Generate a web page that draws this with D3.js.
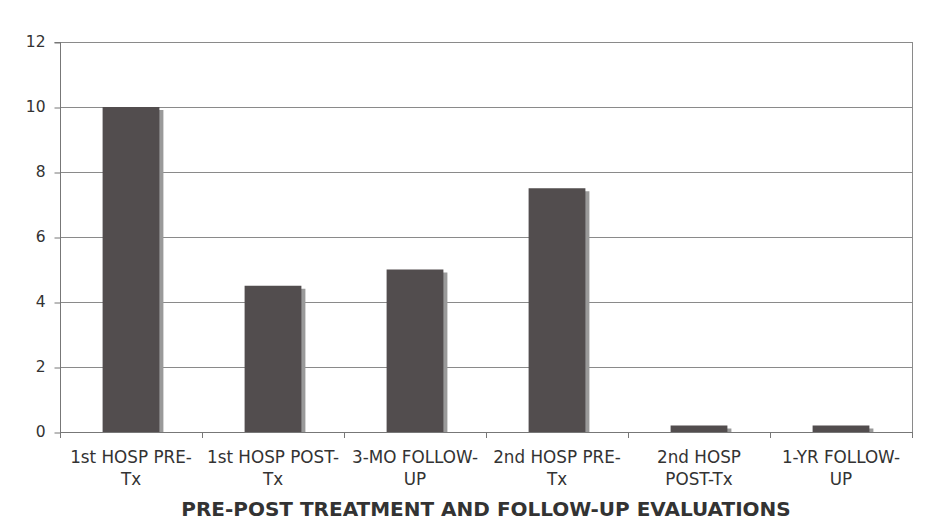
<!DOCTYPE html>
<html><head><meta charset="utf-8">
<script src="https://cdn.jsdelivr.net/npm/d3@7"></script>
<style>body{margin:0;background:#fff}</style>
</head><body><svg id="c" width="947" height="526"></svg>
<script>
const categories = [["1st HOSP PRE-","Tx"],["1st HOSP POST-","Tx"],["3-MO FOLLOW-","UP"],["2nd HOSP PRE-","Tx"],["2nd HOSP","POST-Tx"],["1-YR FOLLOW-","UP"]];
const values = [10, 4.5, 5.0, 7.5, 0.2, 0.2];
const yTicks = [0,2,4,6,8,10,12];
const xTitle = "PRE-POST TREATMENT AND FOLLOW-UP EVALUATIONS";

const svg = d3.select("#c");
const L=60,R=912,T=42,B=432;
const ids = categories.map((d,i)=>i);
const x = d3.scaleBand().domain(ids).range([L,R]).paddingInner(0.6).paddingOuter(0.3);
const xb = d3.scaleBand().domain(ids).range([L,R]);
const y = d3.scaleLinear().domain([0,12]).range([B,T]);
const font = "DejaVu Sans, Verdana, sans-serif";

// grid
svg.append("g").selectAll("line").data(yTicks.filter(d=>d>0)).join("line")
  .attr("x1",L).attr("x2",R).attr("y1",d=>y(d)+0.5).attr("y2",d=>y(d)+0.5)
  .attr("stroke","#8a8a8a").attr("stroke-width",1);
// right border
svg.append("line").attr("x1",R+0.5).attr("x2",R+0.5).attr("y1",T).attr("y2",B).attr("stroke","#8a8a8a");

// shadows
svg.append("g").selectAll("rect").data(values).join("rect")
  .attr("x",(d,i)=>x(i)+4).attr("width",x.bandwidth())
  .attr("y",d=>y(d)+3).attr("height",d=>Math.max(0,B-y(d)-3))
  .attr("fill","#9a9a9a");
// bars
svg.append("g").selectAll("rect").data(values).join("rect")
  .attr("x",(d,i)=>x(i)).attr("width",x.bandwidth())
  .attr("y",d=>y(d)).attr("height",d=>B-y(d))
  .attr("fill","#524d4e");

// y axis
const ya = svg.append("g").attr("transform",`translate(${L+0.5},0)`)
  .call(d3.axisLeft(y).tickValues(yTicks).tickSize(6).tickPadding(9).tickFormat(d3.format("d")));
ya.select(".domain").attr("stroke","#777").attr("d",`M-6,${T+0.5}H0V${B+0.5}`);
ya.selectAll(".tick line").attr("stroke","#777").attr("transform","translate(0,0.5)");
ya.selectAll("text").attr("font-family",font).attr("font-size",15.5).attr("fill","#333");

// x axis
const xg = svg.append("g");
xg.append("line").attr("x1",L).attr("x2",R+1).attr("y1",B+0.5).attr("y2",B+0.5).attr("stroke","#777");
const bounds = ids.map(i=>xb(i)).concat([R]);
xg.selectAll("line.t").data(bounds).join("line").attr("class","t")
  .attr("x1",d=>Math.round(d)+0.5).attr("x2",d=>Math.round(d)+0.5).attr("y1",B).attr("y2",B+6).attr("stroke","#777");
const lab = xg.selectAll("text").data(categories).join("text")
  .attr("font-family",font).attr("font-size",16.8).attr("fill","#333").attr("text-anchor","middle");
lab.each(function(d,i){
  const t=d3.select(this);
  d.forEach((s,k)=>t.append("tspan").attr("x",xb(i)+xb.bandwidth()/2).attr("y",463+k*22).text(s));
});
svg.append("text").attr("x",486).attr("y",516).attr("text-anchor","middle")
  .attr("font-family",font).attr("font-weight","bold").attr("font-size",20).attr("fill","#333").text(xTitle);
</script></body></html>
